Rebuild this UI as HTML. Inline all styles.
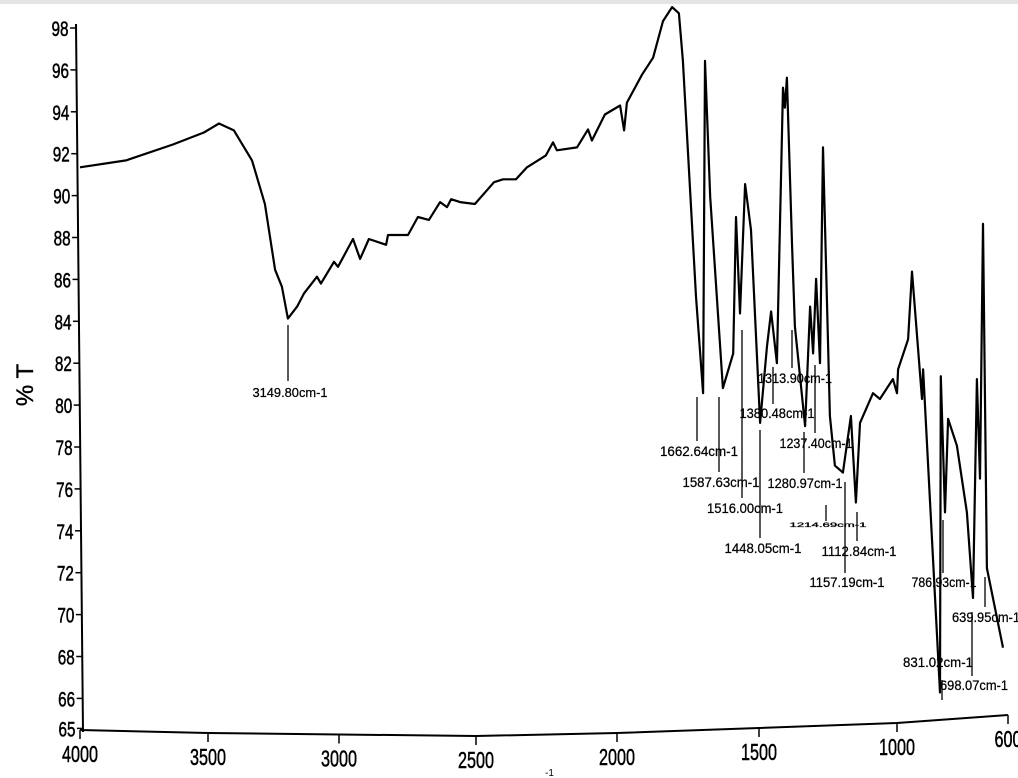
<!DOCTYPE html>
<html><head><meta charset="utf-8"><style>
html,body{margin:0;padding:0;background:#fff;}
svg{display:block;font-family:"Liberation Sans",Arial,sans-serif;}
</style></head><body>
<svg id="chart" width="1018" height="778" viewBox="0 0 1018 778" xmlns="http://www.w3.org/2000/svg">
<rect x="0" y="0" width="1018" height="778" fill="#fff"/>
<rect x="0" y="0" width="1018" height="4" fill="#e4e4e4"/>
<g id="axes"></g>
<g id="series"></g>
<g id="annotations"></g>
<text x="33" y="385" font-size="24" text-anchor="middle" stroke="#000" stroke-width="0.4" transform="rotate(-90 33 385)">% T</text>
<text x="545" y="776" font-size="10">-1</text>
</svg>
<script>
const wavenumbers=[4000,3820,3637,3516,3458,3401,3332,3283,3244,3218,3195,3160,3134,3084,3069,3019,3004,2949,2923,2891,2828,2821,2748,2712,2672,2631,2606,2591,2558,2504,2436,2404,2358,2319,2252,2227,2213,2142,2103,2089,2043,1989,1975,1965,1912,1873,1838,1806,1782,1768,1722,1697,1690,1672,1627,1591,1581,1567,1549,1528,1496,1471,1456,1435,1413,1406,1399,1380,1370,1333,1315,1304,1293,1279,1268,1243,1225,1196,1167,1149,1134,1087,1062,1015,1000,996,960,946,910,906,845,842,827,816,784,748,726,712,701,690,676,618];
const transmittance=[91.35,91.68,92.44,93.01,93.44,93.11,91.68,89.6,86.46,85.65,84.13,84.7,85.32,86.13,85.8,86.84,86.6,87.93,86.98,87.93,87.65,88.12,88.12,88.98,88.84,89.69,89.45,89.83,89.69,89.6,90.64,90.78,90.78,91.35,91.92,92.54,92.16,92.3,93.16,92.63,93.87,94.3,93.11,94.44,95.77,96.58,98.33,99.0,98.7,96.43,85.18,80.57,96.43,89.93,80.81,82.47,88.98,84.37,90.55,88.36,79.15,82.81,84.47,82.0,95.15,94.2,95.63,87.55,83.75,79.0,84.7,82.47,86.03,82.0,92.3,79.48,77.11,76.78,79.48,75.35,79.15,80.57,80.29,81.24,80.57,81.71,83.14,86.37,80.29,81.71,66.28,81.38,74.88,79.34,78.06,74.88,70.79,81.24,76.49,88.65,72.22,68.42];
const xTickLabels=[4000,3500,3000,2500,2000,1500,1000,600];
const yTickLabels=[98,96,94,92,90,88,86,84,82,80,78,76,74,72,70,68,66,65];
const peakLabels=["3149.80cm-1","1662.64cm-1","1587.63cm-1","1516.00cm-1","1448.05cm-1","1380.48cm-1","1313.90cm-1","1280.97cm-1","1237.40cm-1","1214.69cm-1","1112.84cm-1","1157.19cm-1","786.93cm-1","639.95cm-1","831.02cm-1","698.07cm-1"];

const XW=[4000,3500,3000,2500,2000,1500,1000,600], XP=[80,208,339,476,617,759,897,1008];
function xScale(w){
  if(w>=XW[0]) return XP[0];
  for(let i=0;i<XW.length-1;i++){ if(w<=XW[i]&&w>=XW[i+1]) return XP[i]+(XW[i]-w)/(XW[i]-XW[i+1])*(XP[i+1]-XP[i]); }
  return XP[XP.length-1]+(XW[XW.length-1]-w)*(XP[XP.length-1]-XP[XP.length-2])/(XW[XW.length-2]-XW[XW.length-1]);
}
function yScale(t){ if(t>=66) return 28+(98-t)*20.95; return 28+32*20.95+(66-t)*30; }
const AXL=[[80,730],[208,733],[476,736],[617,733],[759,728],[897,723],[1008,715]];
function axisY(px){ for(let i=0;i<AXL.length-1;i++){ if(px>=AXL[i][0]&&px<=AXL[i+1][0]) return AXL[i][1]+(px-AXL[i][0])/(AXL[i+1][0]-AXL[i][0])*(AXL[i+1][1]-AXL[i][1]); } return AXL[AXL.length-1][1]; }

const NS="http://www.w3.org/2000/svg";
function mk(tag,attrs,parent){const e=document.createElementNS(NS,tag);for(const k in attrs)e.setAttribute(k,attrs[k]);parent.appendChild(e);return e;}
const axes=document.getElementById('axes');

const yl=mk('line',{x1:76,y1:24,x2:83,y2:732,stroke:'#000','stroke-width':2},axes);


const xl=mk('polyline',{points:AXL.map(p=>p.join(',')).join(' '),fill:'none',stroke:'#000','stroke-width':2},axes);



yTickLabels.forEach(v=>{
  const y=yScale(v); const ax=76+(y-24)/708*7;
  const tk=mk('line',{x1:ax-6,y1:y,x2:ax,y2:y,stroke:'#000','stroke-width':1.5},axes);
  
  
  const t=mk('text',{x:ax-16,y:y+8,'font-size':21,'text-anchor':'middle',stroke:'#000','stroke-width':0.5,textLength:17,lengthAdjust:'spacingAndGlyphs'},axes);
  t.textContent=v;
  
  
});
xTickLabels.forEach(v=>{
  const x=xScale(v); const ay=axisY(x);
  const tk=mk('line',{x1:x,y1:ay,x2:x,y2:ay+9,stroke:'#000','stroke-width':1.5},axes);
  
  
  const t=mk('text',{x:x,y:ay+32,'font-size':23,'text-anchor':'middle',stroke:'#000','stroke-width':0.5,textLength:String(v).length*9,lengthAdjust:'spacingAndGlyphs'},axes);
  t.textContent=v;
  
  
});

const series=document.getElementById('series');
const pts=wavenumbers.map((w,i)=>xScale(w).toFixed(1)+','+yScale(transmittance[i]).toFixed(1)).join(' ');
const line=mk('polyline',{points:pts,fill:'none',stroke:'#000','stroke-width':2.2,'stroke-linejoin':'round'},series);



const ann=[[290,397,75,288,325,381,13],[699,456,78,697,397,441,14],[721,487,77,719,397,472,14],[745,513,76,742,330,498,14],[763,553,77,760,430,538,14],[777,418,75,773,367,404,14],[795,383,74,792,330,368,14],[805,488,75,804,432,473,14],[816,448,73,815,365,433,14],[828,527,77,826,505,521,6],[859,556,75,857,512,541,14],[847,587,75,845,482,573,14],[944,587,65,943,520,573,14],[986,622,68,985,577,607,14],[938,667,70,942,680,700,14],[974,690,68,972,612,676,14]];
const ag=document.getElementById('annotations');
peakLabels.forEach((s,i)=>{
  const a=ann[i];
  const l=mk('line',{x1:a[3],y1:a[4],x2:a[3],y2:a[5],stroke:'#000','stroke-width':1.3},ag);
  
  
  const t=mk('text',{x:a[0],y:a[1],'font-size':a[6],'text-anchor':'middle',stroke:'#000','stroke-width':0.25,textLength:a[2],lengthAdjust:'spacingAndGlyphs'},ag);
  t.textContent=s;
  
  
});
</script>
</body></html>
